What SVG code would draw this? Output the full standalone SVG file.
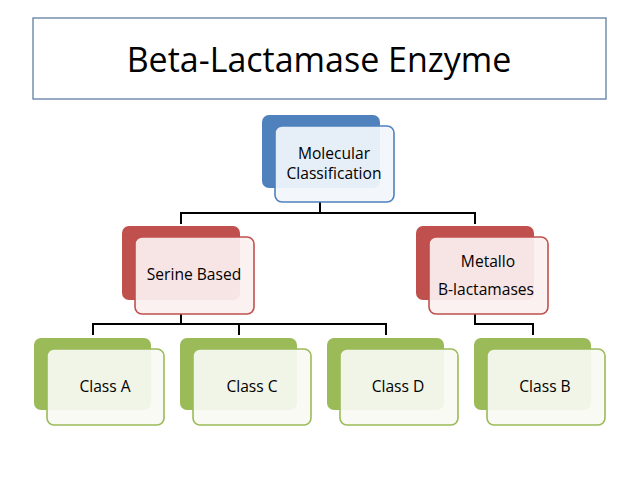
<svg xmlns="http://www.w3.org/2000/svg" width="638" height="479" viewBox="0 0 638 479">
<style>
text{font-family:"Open Sans","Liberation Sans",sans-serif;fill:#000;text-anchor:middle}
.l{font-size:15.6px}
.f{stroke-width:1.6}
.b{fill:#4f81bd}.bf{fill:#f2f6fb;stroke:#4f81bd}
.r{fill:#c0504d}.rf{fill:#fbf0f0;stroke:#c0504d}
.g{fill:#9bbb59}.gf{fill:#f7faf2;stroke:#9bbb59}
#c path{fill:none;stroke:#000;stroke-width:2}
</style>
<rect width="638" height="479" fill="#fff"/>
<g id="title"><rect x="33" y="18" width="573" height="81" fill="#fff" stroke="#5f7fa0" stroke-width="1.3"/>
<text x="319" y="72" style="font-size:34px">Beta-Lactamase Enzyme</text></g>
<g id="c">
<path d="M320 202V213M181 224V213H475V224"/>
<path d="M181 314V324M93 335V324H386V335M239 324V335"/>
<path d="M475 314V324H533V335"/>
</g>
<g id="mol"><rect class="b" x="262" y="115" width="118" height="73" rx="7"/><rect class="bf f" x="275" y="126" width="119" height="76" rx="7" fill-opacity="0.93"/>
<text class="l" x="334" y="159">Molecular</text><text class="l" x="334" y="179">Classification</text></g>
<g id="serine"><rect class="r" x="122" y="226" width="118" height="74" rx="7"/><rect class="rf f" x="135" y="237" width="119" height="77" rx="7" fill-opacity="0.93"/>
<text class="l" x="194" y="280">Serine Based</text></g>
<g id="metallo"><rect class="r" x="416" y="226" width="118" height="74" rx="7"/><rect class="rf f" x="429" y="237" width="119" height="77" rx="7" fill-opacity="0.93"/>
<text class="l" x="488" y="267">Metallo</text><text class="l" x="486" y="295">B-lactamases</text></g>
<g id="classA"><rect class="g" x="34" y="338" width="117" height="72" rx="7"/><rect class="gf f" x="47" y="349" width="117" height="76" rx="7" fill-opacity="0.93"/>
<text class="l" x="105" y="392">Class A</text></g>
<g id="classC"><rect class="g" x="180" y="338" width="117" height="72" rx="7"/><rect class="gf f" x="193" y="349" width="118" height="76" rx="7" fill-opacity="0.93"/>
<text class="l" x="252" y="392">Class C</text></g>
<g id="classD"><rect class="g" x="327" y="338" width="117" height="72" rx="7"/><rect class="gf f" x="340" y="349" width="118" height="76" rx="7" fill-opacity="0.93"/>
<text class="l" x="398" y="392">Class D</text></g>
<g id="classB"><rect class="g" x="474" y="338" width="117" height="72" rx="7"/><rect class="gf f" x="487" y="349" width="118" height="76" rx="7" fill-opacity="0.93"/>
<text class="l" x="545" y="392">Class B</text></g>
</svg>
